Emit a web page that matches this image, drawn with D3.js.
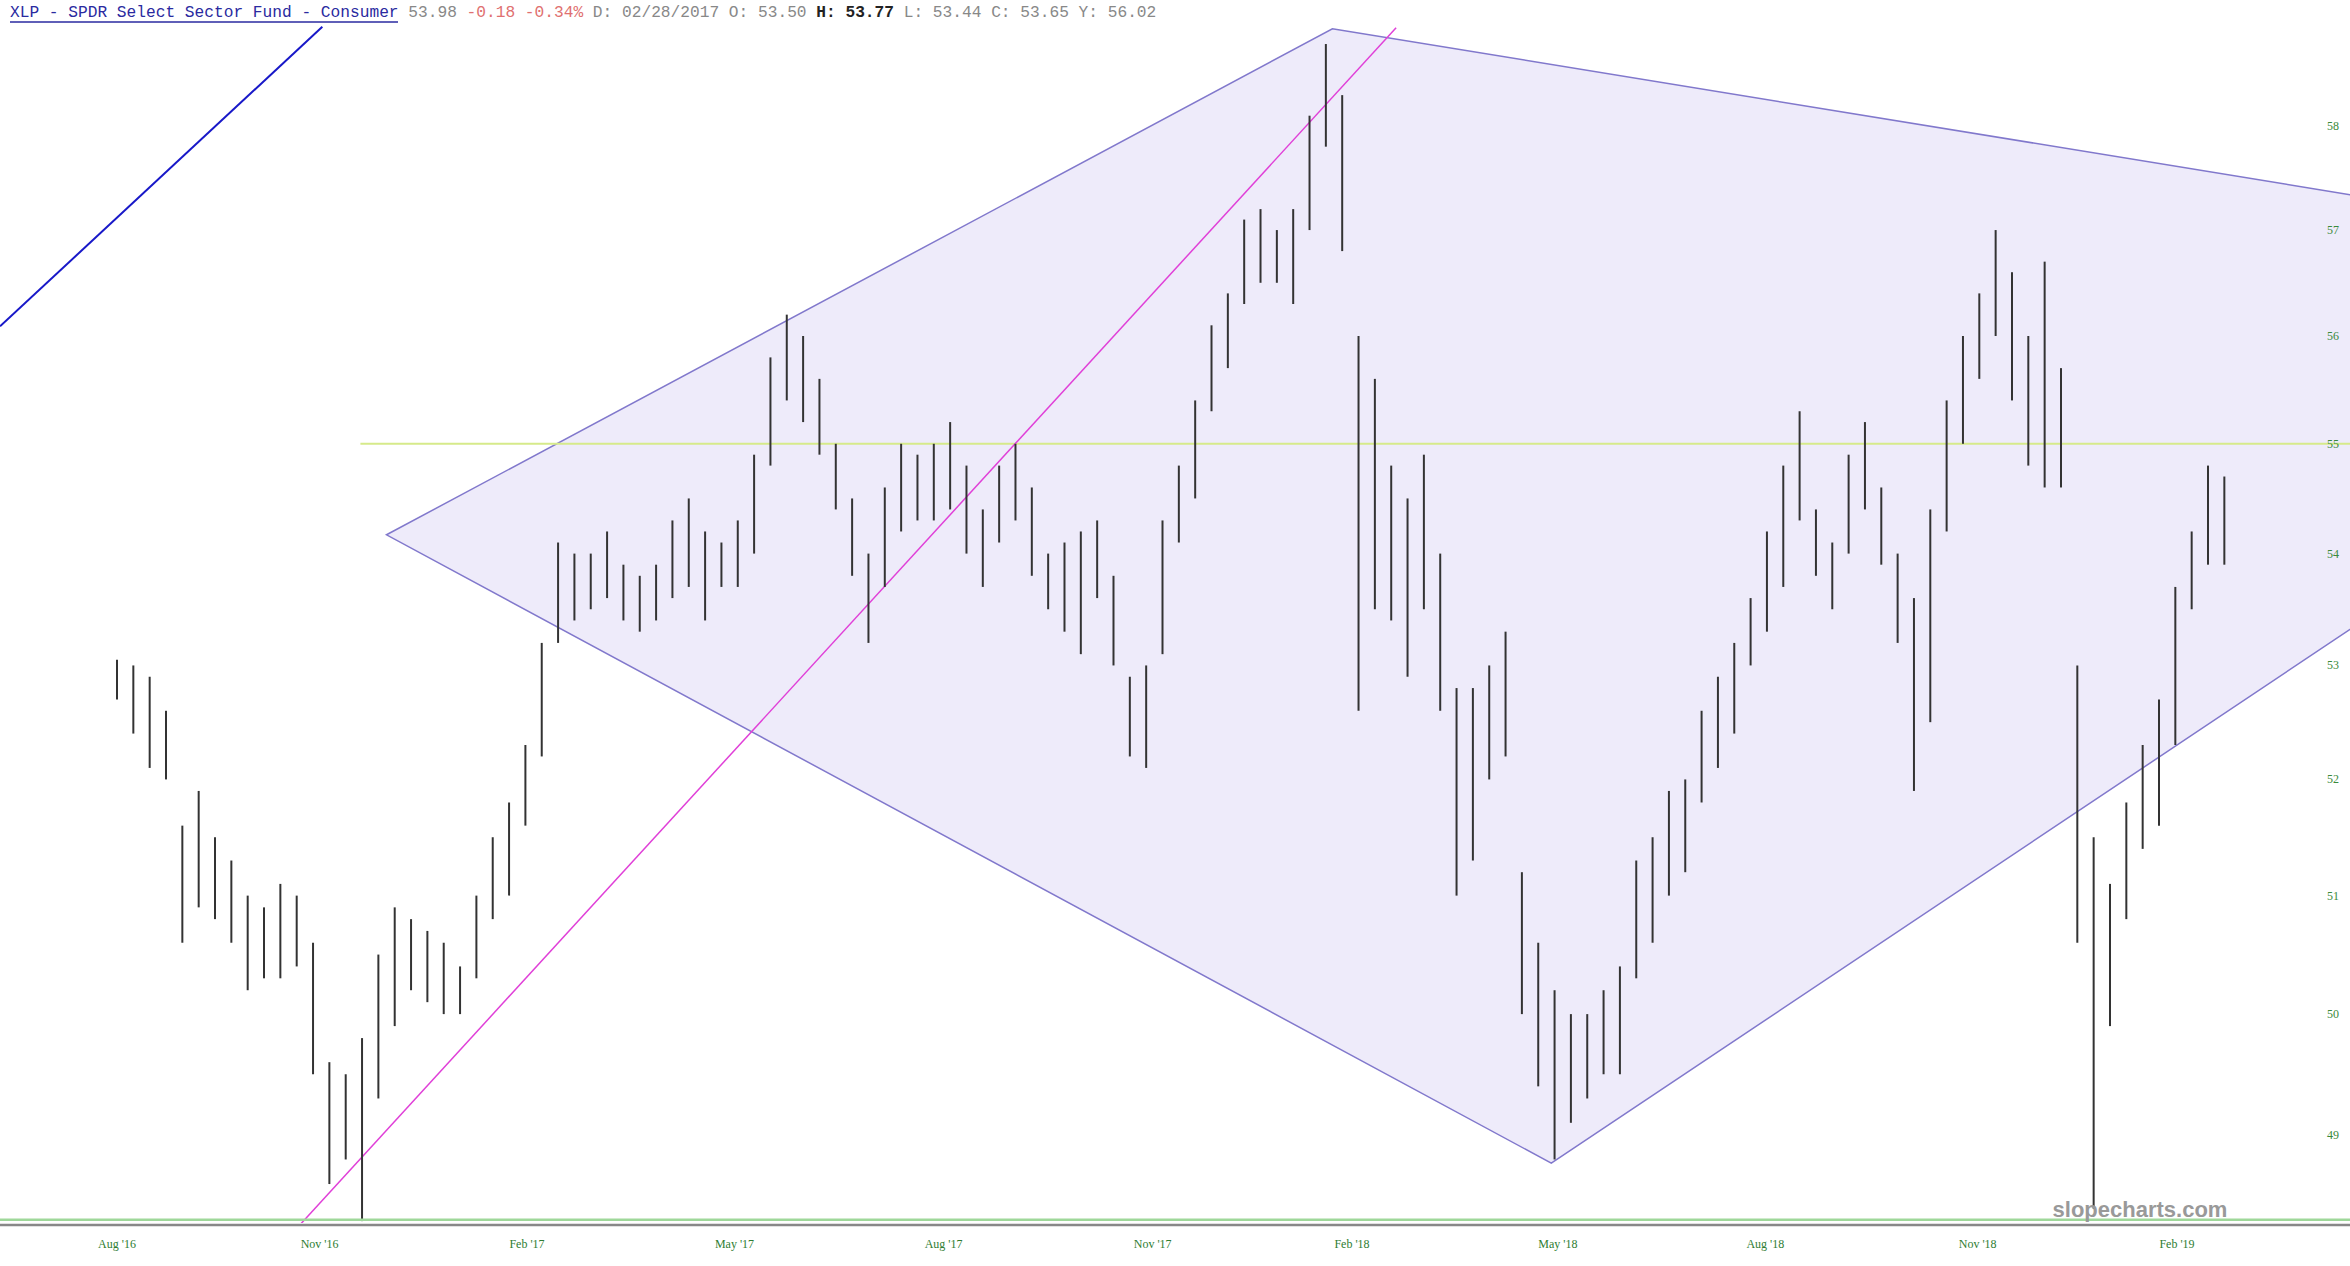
<!DOCTYPE html>
<html><head><meta charset="utf-8">
<script src="https://cdn.jsdelivr.net/npm/d3@7"></script>
<style>body{margin:0;background:#fff}svg{display:block}</style>
</head><body><svg id="c" width="2350" height="1266"></svg>
<script>
// weekly high / low values, week 0 = early Aug 2016
const highs=[53.05,53.0,52.9,52.6,51.6,51.9,51.5,51.3,51.0,50.9,51.1,51.0,50.6,49.6,49.5,49.8,50.5,50.9,50.8,50.7,50.6,50.4,51.0,51.5,51.8,52.3,53.2,54.1,54.0,54.0,54.2,53.9,53.8,53.9,54.3,54.5,54.2,54.1,54.3,54.9,55.8,56.2,56.0,55.6,55.0,54.5,54.0,54.6,55.0,54.9,55.0,55.2,54.8,54.4,54.8,55.0,54.6,54.0,54.1,54.2,54.3,53.8,52.9,53.0,54.3,54.8,55.4,56.1,56.4,57.1,57.2,57.0,57.2,58.1,58.8,58.3,56.0,55.6,54.8,54.5,54.9,54.0,52.8,52.8,53.0,53.3,51.2,50.6,50.2,50.0,50.0,50.2,50.4,51.3,51.5,51.9,52.0,52.6,52.9,53.2,53.6,54.2,54.8,55.3,54.4,54.1,54.9,55.2,54.6,54.0,53.6,54.4,55.4,56.0,56.4,57.0,56.6,56.0,56.7,55.7,53.0,51.5,51.1,51.8,52.3,52.7,53.7,54.2,54.8,54.7];
const lows=[52.7,52.4,52.1,52.0,50.6,50.9,50.8,50.6,50.2,50.3,50.3,50.4,49.5,48.6,48.8,48.3,49.3,49.9,50.2,50.1,50.0,50.0,50.3,50.8,51.0,51.6,52.2,53.2,53.4,53.5,53.6,53.4,53.3,53.4,53.6,53.7,53.4,53.7,53.7,54.0,54.8,55.4,55.2,54.9,54.4,53.8,53.2,53.7,54.2,54.3,54.3,54.4,54.0,53.7,54.1,54.3,53.8,53.5,53.3,53.1,53.6,53.0,52.2,52.1,53.1,54.1,54.5,55.3,55.7,56.3,56.5,56.5,56.3,57.0,57.8,56.8,52.6,53.5,53.4,52.9,53.5,52.6,51.0,51.3,52.0,52.2,50.0,49.4,48.8,49.1,49.3,49.5,49.5,50.3,50.6,51.0,51.2,51.8,52.1,52.4,53.0,53.3,53.7,54.3,53.8,53.5,54.0,54.4,53.9,53.2,51.9,52.5,54.2,55.0,55.6,56.0,55.4,54.8,54.6,54.6,50.6,48.4,49.9,50.8,51.4,51.6,52.3,53.5,53.9,53.9];
const xTickLabels=["Aug '16","Nov '16","Feb '17","May '17","Aug '17","Nov '17","Feb '18","May '18","Aug '18","Nov '18","Feb '19"];
const xTickWeeks=[0,12.4,25.1,37.8,50.6,63.4,75.6,88.2,100.9,113.9,126.1];
const yTicks=[49,50,51,52,53,54,55,56,57,58];
// drawn annotations in (week, price)
const wedge=[[16.5,54.17],[74.4,58.95],[150,57.0],[150,54.63],[87.8,48.77]];
const magentaLine=[[11.2,48.27],[78.3,58.96]];
const blueLine=[[-7.16,56.09],[12.57,58.97]];
const levelLine=55, levelStart=14.9, baseLevel=48.31;

const svg=d3.select("#c");
const W=2350;
const x=d3.scaleLinear().domain([0,1]).range([117,117+16.336]);
const y=d3.scaleLog().domain([58,49]).range([126,1135]);
const g=svg.append("g");
g.append("defs").append("clipPath").attr("id","cp").append("rect").attr("x",0).attr("y",0).attr("width",W).attr("height",1223);
const p=g.append("g").attr("clip-path","url(#cp)");
p.append("path").attr("d",d3.line().x(d=>x(d[0])).y(d=>y(d[1]))(wedge)+"Z")
 .attr("fill","rgba(205,198,240,0.35)").attr("stroke","#8178cc").attr("stroke-width",1.5);
p.append("line").attr("x1",x(levelStart)).attr("x2",W).attr("y1",y(levelLine)).attr("y2",y(levelLine)).attr("stroke","#d6ea8a").attr("stroke-width",2);
p.append("line").attr("x1",x(magentaLine[0][0])).attr("y1",y(magentaLine[0][1])).attr("x2",x(magentaLine[1][0])).attr("y2",y(magentaLine[1][1])).attr("stroke","#e040d8").attr("stroke-width",1.5);
p.append("line").attr("x1",x(blueLine[0][0])).attr("y1",y(blueLine[0][1])).attr("x2",x(blueLine[1][0])).attr("y2",y(blueLine[1][1])).attr("stroke","#1818c8").attr("stroke-width",2);
p.selectAll("line.bar").data(highs).enter().append("line").attr("class","bar")
 .attr("x1",(d,i)=>x(i)).attr("x2",(d,i)=>x(i)).attr("y1",d=>y(d)).attr("y2",(d,i)=>y(lows[i]))
 .attr("stroke","#333").attr("stroke-width",2);
p.append("line").attr("x1",0).attr("x2",W).attr("y1",y(baseLevel)).attr("y2",y(baseLevel)).attr("stroke","#9fd89a").attr("stroke-width",2.5);
g.append("line").attr("x1",0).attr("x2",W).attr("y1",1225).attr("y2",1225).attr("stroke","#888").attr("stroke-width",2.5);
g.selectAll("text.yt").data(yTicks).enter().append("text").attr("class","yt")
 .attr("x",2333).attr("y",d=>y(d)+4).attr("text-anchor","middle").attr("font-family","Liberation Serif").attr("font-size",12).attr("fill","#3a8a3a").text(d=>d);
g.selectAll("text.xt").data(xTickLabels).enter().append("text").attr("class","xt")
 .attr("x",(d,i)=>x(xTickWeeks[i])).attr("y",1248).attr("text-anchor","middle").attr("font-family","Liberation Serif").attr("font-size",12).attr("fill","#2e7d32").text(d=>d);
g.append("text").attr("x",2140).attr("y",1217).attr("text-anchor","middle").attr("font-family","Liberation Sans").attr("font-weight","bold").attr("font-size",22).attr("fill","#999").text("slopecharts.com");
const t=g.append("text").attr("x",10).attr("y",17).attr("font-family","Liberation Mono").attr("font-size",16.2);
t.append("tspan").attr("fill","#2a2aa0").text("XLP - SPDR Select Sector Fund - Consumer");
t.append("tspan").attr("fill","#888").text(" 53.98 ");
t.append("tspan").attr("fill","#e07070").text("-0.18 -0.34%");
t.append("tspan").attr("fill","#888").text(" D: 02/28/2017 O: 53.50 ");
t.append("tspan").attr("fill","#222").attr("font-weight","bold").text("H: 53.77");
t.append("tspan").attr("fill","#888").text(" L: 53.44 C: 53.65 Y: 56.02");
g.append("line").attr("x1",10).attr("x2",398).attr("y1",22).attr("y2",22).attr("stroke","#2a2aa0").attr("stroke-width",1.5);
</script></body></html>
